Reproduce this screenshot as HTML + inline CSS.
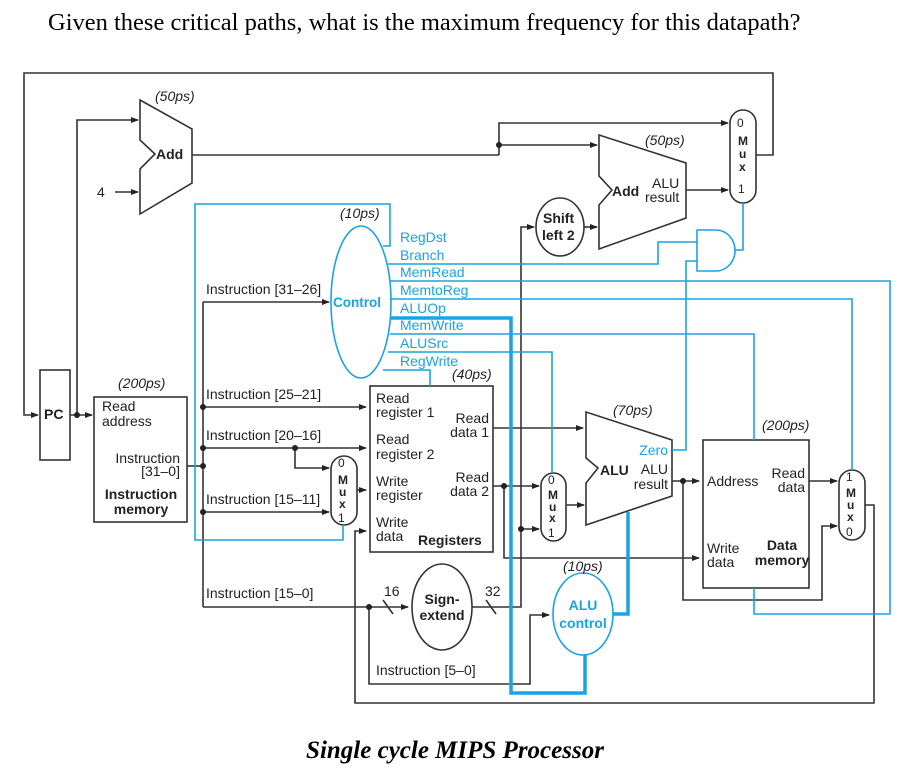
<!DOCTYPE html>
<html><head><meta charset="utf-8"><style>
body{margin:0;background:#fff;}
svg{display:block;}
text{font-family:"Liberation Sans",Arial,sans-serif;font-size:14px;fill:#222;}
.b{font-weight:bold;}
.i{font-style:italic;}
.bl{fill:#1aa3e0;}
</style></head><body>
<svg width="903" height="776" viewBox="0 0 903 776" xmlns="http://www.w3.org/2000/svg">
<defs>
<marker id="a" markerWidth="8" markerHeight="8" refX="7" refY="4" orient="auto" markerUnits="userSpaceOnUse"><path d="M0,1 L8,4 L0,7 z" fill="#222"/></marker>
</defs>
<text x="48" y="30" style="font-family:'Liberation Serif',serif;font-size:24.5px;fill:#000">Given these critical paths, what is the maximum frequency for this datapath?</text>

<g fill="none" stroke="#333" stroke-width="1.6">
<polyline points="756,155 773,155 773,73 24,73 24,415 38,415" marker-end="url(#a)"/>
<rect x="40" y="370" width="30" height="90"/>
<polyline points="70,415 92,415" marker-end="url(#a)"/>
<polyline points="77,415 77,120 138,120" marker-end="url(#a)"/>
<line x1="115" y1="192" x2="138" y2="192" marker-end="url(#a)"/>
<polygon points="140,100 192,129 192,183 140,214 140,169 155,154 140,140"/>
<line x1="192" y1="155" x2="499" y2="155"/>
<polyline points="499,155 499,145 597,145" marker-end="url(#a)"/>
<polyline points="499,145 499,123 728,123" marker-end="url(#a)"/>
<polygon points="599,135 686,163 686,218 599,249 599,205 612,190 599,176"/>
<line x1="686" y1="190" x2="728" y2="190" marker-end="url(#a)"/>
<rect x="730" y="110" width="26" height="93" rx="13"/>
<ellipse cx="560" cy="227" rx="24" ry="29"/>
<line x1="584" y1="227" x2="597" y2="227" marker-end="url(#a)"/>
<polyline points="472,607 521,607 521,227 534,227" marker-end="url(#a)"/>
<rect x="94" y="397" width="93" height="125"/>
<polyline points="187,466 203,466"/>
<polyline points="203,302 203,607"/>
<line x1="203" y1="302" x2="329" y2="302" marker-end="url(#a)"/>
<line x1="203" y1="407" x2="366" y2="407" marker-end="url(#a)"/>
<line x1="203" y1="448" x2="366" y2="448" marker-end="url(#a)"/>
<polyline points="295,448 295,468 329,468" marker-end="url(#a)"/>
<line x1="203" y1="512" x2="329" y2="512" marker-end="url(#a)"/>
<rect x="331" y="456" width="26" height="69" rx="13"/>
<line x1="357" y1="490" x2="366" y2="490" marker-end="url(#a)"/>
<line x1="203" y1="607" x2="408" y2="607" marker-end="url(#a)"/>
<line x1="383" y1="600" x2="393" y2="614"/>
<polyline points="369,607 369,684 530,684 530,615 549,615" marker-end="url(#a)"/>
<rect x="370" y="386" width="123" height="166"/>
<ellipse cx="442" cy="607" rx="30" ry="43"/>
<line x1="486" y1="600" x2="496" y2="614"/>
<line x1="493" y1="428" x2="583" y2="428" marker-end="url(#a)"/>
<line x1="493" y1="486" x2="539" y2="486" marker-end="url(#a)"/>
<line x1="521" y1="529" x2="539" y2="529" marker-end="url(#a)"/>
<polyline points="504,486 504,558 699,558" marker-end="url(#a)"/>
<rect x="541" y="473" width="25" height="68" rx="12.5"/>
<line x1="566" y1="505" x2="584" y2="505" marker-end="url(#a)"/>
<polygon points="586,412 672,440 672,496 586,525 586,483 598,468 586,458"/>
<line x1="672" y1="481" x2="699" y2="481" marker-end="url(#a)"/>
<polyline points="683,481 683,600 822,600 822,526 837,526" marker-end="url(#a)"/>
<rect x="703" y="440" width="106" height="148"/>
<line x1="809" y1="481" x2="837" y2="481" marker-end="url(#a)"/>
<rect x="839" y="470" width="26" height="70" rx="13"/>
<polyline points="865,505 874,505 874,703 355,703 355,531 366,531" marker-end="url(#a)"/>
</g>
<g fill="#222">
<circle cx="77" cy="415" r="3"/><circle cx="499" cy="145" r="3"/>
<circle cx="203" cy="407" r="3"/><circle cx="203" cy="448" r="3"/><circle cx="203" cy="466" r="3"/><circle cx="203" cy="512" r="3"/>
<circle cx="295" cy="448" r="3"/><circle cx="369" cy="607" r="3"/>
<circle cx="504" cy="486" r="3"/><circle cx="521" cy="529" r="3"/><circle cx="683" cy="481" r="3"/>
</g>

<g fill="none" stroke="#1aa3e0" stroke-width="1.6">
<ellipse cx="361" cy="302" rx="30" ry="76"/>
<polyline points="383,246 390,246 390,204 195,204 195,540 343,540 343,525"/>
<polyline points="388,264 658,264 658,242 697,242"/>
<polyline points="672,450 686,450 686,261 697,261"/>
<path d="M697,230 L716,230 A19,20.5 0 0 1 716,271 L697,271 Z"/>
<polyline points="735,250 743,250 743,203"/>
<polyline points="390,281 890,281 890,614 754,614 754,588"/>
<polyline points="390,299 852,299 852,470"/>
<polyline points="390,334 754,334 754,440"/>
<polyline points="388,352 552,352 552,473"/>
<polyline points="383,370 430,370 430,386"/>
<ellipse cx="583" cy="614" rx="30" ry="41"/>
</g>
<g fill="none" stroke="#1aa3e0" stroke-width="3.5">
<polyline points="391,318 511,318 511,693 585,693 585,655"/>
<polyline points="628,512 628,614 613,614"/>
</g>

<text x="155" y="101" class="i">(50ps)</text>
<text x="156" y="159" class="b">Add</text>
<text x="97" y="197">4</text>
<text x="645" y="145" class="i">(50ps)</text>
<text x="612" y="196" class="b">Add</text>
<text x="652" y="188">ALU</text>
<text x="645" y="202">result</text>
<text x="737" y="127" style="font-size:12px">0</text>
<text x="738" y="145" class="b" style="font-size:12px">M</text>
<text x="739" y="158" class="b" style="font-size:12px">u</text>
<text x="739" y="171" class="b" style="font-size:12px">x</text>
<text x="738" y="193" style="font-size:12px">1</text>
<text x="543" y="223" class="b">Shift</text>
<text x="542" y="240" class="b">left 2</text>
<text x="340" y="218" class="i">(10ps)</text>
<text x="333" y="307" class="b bl" style="font-size:13.5px">Control</text>
<text x="400" y="242" class="bl">RegDst</text>
<text x="400" y="260" class="bl">Branch</text>
<text x="400" y="277" class="bl">MemRead</text>
<text x="400" y="295" class="bl">MemtoReg</text>
<text x="400" y="313" class="bl">ALUOp</text>
<text x="400" y="330" class="bl">MemWrite</text>
<text x="400" y="348" class="bl">ALUSrc</text>
<text x="400" y="366" class="bl">RegWrite</text>
<text x="452" y="379" class="i">(40ps)</text>
<text x="206" y="294">Instruction [31–26]</text>
<text x="206" y="399">Instruction [25–21]</text>
<text x="206" y="440">Instruction [20–16]</text>
<text x="206" y="504">Instruction [15–11]</text>
<text x="206" y="598">Instruction [15–0]</text>
<text x="376" y="675">Instruction [5–0]</text>
<text x="44" y="419" class="b">PC</text>
<text x="118" y="388" class="i">(200ps)</text>
<text x="102" y="411">Read</text>
<text x="102" y="426">address</text>
<text x="180" y="463" text-anchor="end">Instruction</text>
<text x="180" y="476" text-anchor="end">[31–0]</text>
<text x="141" y="499" class="b" text-anchor="middle">Instruction</text>
<text x="141" y="514" class="b" text-anchor="middle">memory</text>
<text x="338" y="467" style="font-size:12px">0</text>
<text x="338" y="484" class="b" style="font-size:12px">M</text>
<text x="339" y="496" class="b" style="font-size:12px">u</text>
<text x="339" y="508" class="b" style="font-size:12px">x</text>
<text x="338" y="522" style="font-size:12px">1</text>
<text x="376" y="403">Read</text>
<text x="376" y="417">register 1</text>
<text x="376" y="444">Read</text>
<text x="376" y="459">register 2</text>
<text x="376" y="486">Write</text>
<text x="376" y="500">register</text>
<text x="376" y="527">Write</text>
<text x="376" y="541">data</text>
<text x="418" y="545" class="b">Registers</text>
<text x="489" y="423" text-anchor="end">Read</text>
<text x="489" y="437" text-anchor="end">data 1</text>
<text x="489" y="482" text-anchor="end">Read</text>
<text x="489" y="496" text-anchor="end">data 2</text>
<text x="384" y="596">16</text>
<text x="485" y="596">32</text>
<text x="442" y="604" class="b" text-anchor="middle">Sign-</text>
<text x="442" y="620" class="b" text-anchor="middle">extend</text>
<text x="548" y="484" style="font-size:12px">0</text>
<text x="548" y="499" class="b" style="font-size:12px">M</text>
<text x="549" y="511" class="b" style="font-size:12px">u</text>
<text x="549" y="522" class="b" style="font-size:12px">x</text>
<text x="548" y="537" style="font-size:12px">1</text>
<text x="613" y="415" class="i">(70ps)</text>
<text x="668" y="455" class="bl" text-anchor="end">Zero</text>
<text x="600" y="475" class="b">ALU</text>
<text x="668" y="474" text-anchor="end">ALU</text>
<text x="668" y="489" text-anchor="end">result</text>
<text x="762" y="430" class="i">(200ps)</text>
<text x="707" y="486">Address</text>
<text x="805" y="478" text-anchor="end">Read</text>
<text x="805" y="492" text-anchor="end">data</text>
<text x="707" y="553">Write</text>
<text x="707" y="567">data</text>
<text x="782" y="550" class="b" text-anchor="middle">Data</text>
<text x="782" y="565" class="b" text-anchor="middle">memory</text>
<text x="846" y="481" style="font-size:12px">1</text>
<text x="846" y="497" class="b" style="font-size:12px">M</text>
<text x="847" y="509" class="b" style="font-size:12px">u</text>
<text x="847" y="521" class="b" style="font-size:12px">x</text>
<text x="846" y="536" style="font-size:12px">0</text>
<text x="563" y="571" class="i">(10ps)</text>
<text x="583" y="610" class="b bl" text-anchor="middle">ALU</text>
<text x="583" y="628" class="b bl" text-anchor="middle">control</text>
<text x="455" y="758" text-anchor="middle" style="font-family:'Liberation Serif',serif;font-size:25px;font-weight:bold;font-style:italic;fill:#000">Single cycle MIPS Processor</text>
</svg>
</body></html>
